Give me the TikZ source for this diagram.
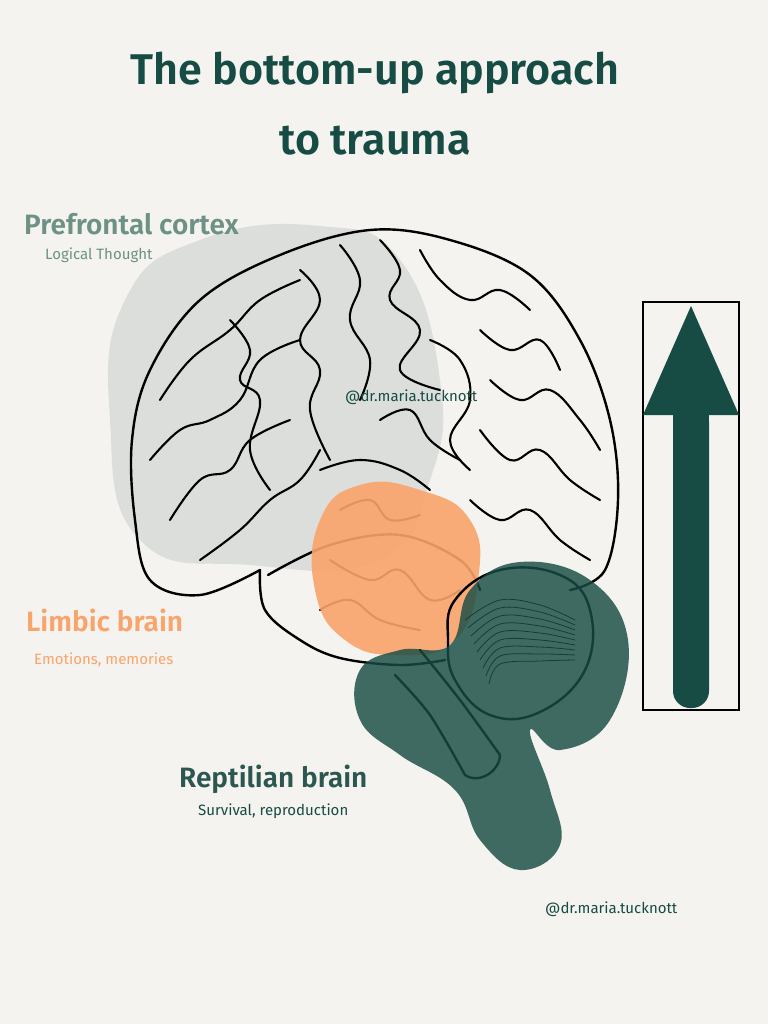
\documentclass[tikz,border=0pt]{standalone}
\usepackage{fontspec}
\setmainfont{Fira Sans}
\newfontfamily\titlefont{Fira Sans SemiBold}
\definecolor{bg}{HTML}{F4F3EF}
\definecolor{dg}{HTML}{174C44}
\definecolor{grayblob}{HTML}{D9DCD8}
\definecolor{orng}{HTML}{F9A46A}
\definecolor{gtext}{HTML}{6E9186}
\begin{document}
\begin{tikzpicture}[x=1pt,y=-1pt,
  brainline/.style={line width=2.4pt,black,line cap=round,line join=round},
  fold/.style={line width=2.1pt,black,line cap=round},
  lbl/.style={font=\titlefont\fontsize{28}{30}\selectfont,anchor=west,inner sep=0},
  sub/.style={font=\fontsize{15}{17}\selectfont,anchor=west,inner sep=0}]
\fill[bg] (0,0) rectangle (768,1024);
\useasboundingbox (0,0) rectangle (768,1024);
% title
\node[font=\titlefont\fontsize{43}{70}\selectfont,text=dg,align=center] (title) at (375,104) {The bottom-up approach\\to trauma};
% gray blob
\fill[grayblob,opacity=0.9] plot[smooth cycle,tension=0.8] coordinates {(125,300) (200,240) (320,226) (400,260) (440,380) (430,480) (380,560) (250,565) (140,540) (110,420)};
% brain outline
\draw[brainline,fill=none] plot[smooth,tension=0.6] coordinates {(260,570) (200,595) (150,580) (135,520) (132,440) (150,370) (200,300) (280,255) (370,230) (450,240) (530,275) (580,340) (610,420) (618,500) (605,570) (570,590)};
\draw[brainline] plot[smooth,tension=0.6] coordinates {(260,570) (265,610) (300,640) (340,658) (400,665) (445,660)};
\draw[brainline] plot[smooth,tension=0.6] coordinates {(268,575) (330,545) (400,535) (460,560) (480,590)};
% folds
\foreach \c in {
 {(160,400) (190,360) (230,330) (260,300) (300,280)},
 {(150,460) (180,430) (210,420) (240,400) (260,360) (300,340)},
 {(170,520) (200,480) (230,470) (250,440) (290,420)},
 {(200,560) (240,530) (270,500) (300,480) (320,450)},
 {(230,320) (250,350) (240,380) (260,400) (250,450) (270,490)},
 {(300,270) (320,300) (300,340) (320,370) (310,410) (330,460)},
 {(340,245) (360,280) (350,320) (370,360) (360,400)},
 {(380,240) (400,270) (390,300) (420,330) (400,370) (440,390)},
 {(420,250) (440,280) (470,300) (500,290) (530,310)},
 {(430,340) (460,360) (470,400) (450,440) (470,470)},
 {(480,330) (510,350) (540,340) (560,370)},
 {(490,380) (520,400) (550,390) (580,420) (600,450)},
 {(480,430) (510,460) (540,450) (570,480) (600,500)},
 {(470,500) (500,520) (530,510) (560,540) (590,560)},
 {(320,470) (360,460) (400,470) (430,490)},
 {(380,420) (410,410) (430,440) (460,460)},
 {(340,510) (370,500) (390,520) (420,515)},
 {(330,560) (370,580) (400,570) (430,600) (460,590)},
 {(320,610) (350,600) (380,620) (420,630)}} {
  \draw[fold] plot[smooth,tension=0.7] coordinates \c;
}
% orange blob
\fill[orng,opacity=0.9] plot[smooth cycle,tension=0.8] coordinates {(320,520) (360,485) (420,490) (470,520) (478,580) (455,640) (400,655) (345,640) (315,590)};
% cerebellum
\draw[brainline] plot[smooth cycle,tension=0.7] coordinates {(455,600) (500,570) (560,575) (590,610) (585,670) (540,712) (490,715) (455,680) (448,640)};
\foreach \i in {0,...,8} {
  \draw[line width=0.8pt] plot[smooth,tension=0.6] coordinates {(465+3*\i,620+8*\i) (500,600+8*\i) (540,605+7*\i) (575,620+5*\i)};
}
% brainstem
\draw[brainline] plot[smooth,tension=0.5] coordinates {(395,675) (430,715) (465,775)};
\draw[brainline] plot[smooth,tension=0.5] coordinates {(420,650) (460,700) (500,755)};
\draw[brainline] (465,775) .. controls (480,785) and (500,770) .. (500,755);
% dark green blob
\fill[dg,opacity=0.82] plot[smooth cycle,tension=0.7] coordinates {(360,670) (400,650) (450,645) (470,590) (520,562) (590,580) (628,640) (610,720) (560,750) (530,730) (550,790) (560,845) (520,870) (480,840) (455,790) (400,755) (360,720)};
% arrow box
\draw[line width=2pt,black] (643,302) rectangle (739,710);
\fill[dg] (691,306) -- (739,415) -- (643,415) -- cycle;
\fill[dg,rounded corners=17pt] (673,405) rectangle (709,708);
\fill[dg] (673,405) rectangle (709,440);
% labels
\node[lbl,text=gtext] (pfc) at (24,224) {Prefrontal cortex};
\node[sub,text=gtext] (pfcs) at (45,255) {Logical Thought};
\node[lbl,text=orng] (lim) at (26,620) {Limbic brain};
\node[sub,text=orng] (lims) at (34,660) {Emotions, memories};
\node[lbl,text=dg!80!gray] (rep) at (179,779) {Reptilian brain};
\node[sub,text=dg] (reps) at (198,811) {Survival, reproduction};
\node[sub,text=dg] (wm1) at (345,397) {@dr.maria.tucknott};
\node[sub,text=dg] (wm2) at (545,909) {@dr.maria.tucknott};
\end{tikzpicture}
\end{document}
